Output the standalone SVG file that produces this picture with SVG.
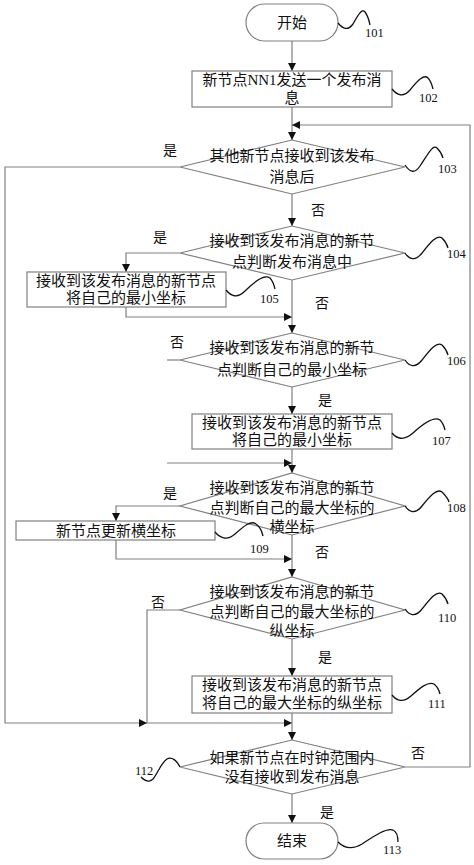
<svg xmlns="http://www.w3.org/2000/svg" width="474" height="865" viewBox="0 0 474 865">
<defs>
<marker id="arr" markerUnits="userSpaceOnUse" markerWidth="9" markerHeight="9" refX="8" refY="4" orient="auto">
<path d="M0,0 L8,4 L0,8 z" fill="#111"/>
</marker>
</defs>
<style>
.shape{fill:#fff;stroke:#808080;stroke-width:1.2}
.conn{fill:none;stroke:#808080;stroke-width:1.2}
.sq{fill:none;stroke:#111;stroke-width:1.3}
.t{font-family:"Liberation Serif","Noto Sans CJK SC",serif;font-size:15px;fill:#111;text-anchor:middle}
.lbl{font-family:"Liberation Serif","Noto Sans CJK SC",serif;font-size:14px;fill:#111;text-anchor:middle}
.num{font-family:"Liberation Serif",serif;font-size:12.5px;fill:#111}
</style>
<rect width="474" height="865" fill="#fff"/>
<g id="connectors">
<path class="conn" d="M292,41 V71" marker-end="url(#arr)"/>
<path class="conn" d="M292,107 V140" marker-end="url(#arr)"/>
<path class="conn" d="M405,767 H470 V125 H292" marker-end="url(#arr)"/>
<path class="conn" d="M180,167 H5 V723 H147" marker-end="url(#arr)"/>
<path class="conn" d="M292,194 V226" marker-end="url(#arr)"/>
<path class="conn" d="M180,253 H126 V272" marker-end="url(#arr)"/>
<path class="conn" d="M126,307 V317 H292" marker-end="url(#arr)"/>
<path class="conn" d="M292,280 V333" marker-end="url(#arr)"/>
<path class="conn" d="M180,360 H167"/>
<path class="conn" d="M292,387 V414" marker-end="url(#arr)"/>
<path class="conn" d="M167,463 H292" marker-end="url(#arr)"/>
<path class="conn" d="M292,449 V473" marker-end="url(#arr)"/>
<path class="conn" d="M180,506 H116 V521" marker-end="url(#arr)"/>
<path class="conn" d="M116,540 V559 H292" marker-end="url(#arr)"/>
<path class="conn" d="M292,535 V577" marker-end="url(#arr)"/>
<path class="conn" d="M180,610 H147 V723 H292" marker-end="url(#arr)"/>
<path class="conn" d="M292,639 V676" marker-end="url(#arr)"/>
<path class="conn" d="M292,713 V740" marker-end="url(#arr)"/>
<path class="conn" d="M292,794 V823" marker-end="url(#arr)"/>
<text class="lbl" x="170" y="155">是</text>
<text class="lbl" x="318" y="215">否</text>
<text class="lbl" x="160" y="242">是</text>
<text class="lbl" x="322" y="308">否</text>
<text class="lbl" x="177" y="347">否</text>
<text class="lbl" x="325" y="405">是</text>
<text class="lbl" x="170" y="498">是</text>
<text class="lbl" x="322" y="557">否</text>
<text class="lbl" x="158" y="607">否</text>
<text class="lbl" x="325" y="662">是</text>
<text class="lbl" x="418" y="758">否</text>
<text class="lbl" x="327" y="817">是</text>
</g>
<g id="n101">
<rect class="shape" x="246" y="4" width="92" height="37" rx="18.5"/>
<text class="t" x="292" y="28">开始</text>
<path class="sq" d="M338,23 C343,29 348,31 353,24 C358,15 362,8 365,12 C368,16 369,20 370,25"/>
<text class="num" x="365" y="37">101</text>
</g>
<g id="n102">
<rect class="shape" x="192" y="71" width="200" height="36"/>
<text class="t" x="292" y="85">新节点NN1发送一个发布消</text>
<text class="t" x="292" y="103">息</text>
<path class="sq" d="M392,89 C397,95 403,98 410,90 C418,80 424,74 428,78 C431,81 432,85 433,89"/>
<text class="num" x="419" y="102">102</text>
</g>
<g id="n103">
<polygon class="shape" points="292,140 405,167 292,194 180,167"/>
<text class="t" x="292" y="161">其他新节点接收到该发布</text>
<text class="t" x="292" y="182">消息后</text>
<path class="sq" d="M405,165 C409,171 414,175 420,166 C428,154 433,144 437,148 C440,151 442,154 443,158"/>
<text class="num" x="438" y="173">103</text>
</g>
<g id="n104">
<polygon class="shape" points="292,226 405,253 292,280 180,253"/>
<text class="t" x="292" y="246">接收到该发布消息的新节</text>
<text class="t" x="292" y="267">点判断发布消息中</text>
<path class="sq" d="M405,253 C409,259 415,262 422,253 C430,243 437,234 442,238 C445,241 447,244 448,248"/>
<text class="num" x="447" y="258">104</text>
</g>
<g id="n105">
<rect class="shape" x="27" y="272" width="199" height="35"/>
<text class="t" x="126" y="286">接收到该发布消息的新节点</text>
<text class="t" x="126" y="303">将自己的最小坐标</text>
<path class="sq" d="M226,290 C231,296 237,299 245,291 C255,281 264,274 270,278 C273,281 274,285 275,289"/>
<text class="num" x="260" y="303">105</text>
</g>
<g id="n106">
<polygon class="shape" points="292,333 405,360 292,387 180,360"/>
<text class="t" x="292" y="353">接收到该发布消息的新节</text>
<text class="t" x="292" y="375">点判断自己的最小坐标</text>
<path class="sq" d="M405,360 C409,366 415,369 422,360 C430,350 437,341 442,345 C445,348 447,351 448,355"/>
<text class="num" x="447" y="365">106</text>
</g>
<g id="n107">
<rect class="shape" x="192" y="414" width="200" height="35"/>
<text class="t" x="292" y="428">接收到该发布消息的新节点</text>
<text class="t" x="292" y="445">将自己的最小坐标</text>
<path class="sq" d="M392,433 C397,439 404,441 413,433 C424,423 434,416 440,420 C443,423 444,426 445,430"/>
<text class="num" x="432" y="445">107</text>
</g>
<g id="n108">
<polygon class="shape" points="292,473 405,506 292,535 180,506"/>
<text class="t" x="292" y="493">接收到该发布消息的新节</text>
<text class="t" x="292" y="513">点判断自己的最大坐标的</text>
<text class="t" x="292" y="532">横坐标</text>
<path class="sq" d="M405,506 C409,512 415,515 422,506 C430,496 437,488 442,492 C445,495 448,498 449,502"/>
<text class="num" x="447" y="512">108</text>
</g>
<g id="n109">
<rect class="shape" x="16" y="521" width="199" height="19"/>
<text class="t" x="116" y="536">新节点更新横坐标</text>
<path class="sq" d="M215,532 C220,538 227,541 235,534 C244,526 251,520 256,524 C260,527 262,531 263,536"/>
<text class="num" x="250" y="553">109</text>
</g>
<g id="n110">
<polygon class="shape" points="292,577 405,610 292,639 180,610"/>
<text class="t" x="292" y="597">接收到该发布消息的新节</text>
<text class="t" x="292" y="617">点判断自己的最大坐标的</text>
<text class="t" x="292" y="636">纵坐标</text>
<path class="sq" d="M405,609 C409,615 415,618 422,609 C430,599 437,590 442,594 C445,597 447,600 448,604"/>
<text class="num" x="438" y="622">110</text>
</g>
<g id="n111">
<rect class="shape" x="192" y="676" width="200" height="37"/>
<text class="t" x="292" y="690">接收到该发布消息的新节点</text>
<text class="t" x="292" y="708">将自己的最大坐标的纵坐标</text>
<path class="sq" d="M392,695 C397,701 403,703 411,696 C420,688 428,681 434,684 C438,687 439,690 440,694"/>
<text class="num" x="428" y="708">111</text>
</g>
<g id="n112">
<polygon class="shape" points="292,740 405,767 292,794 180,767"/>
<text class="t" x="292" y="763">如果新节点在时钟范围内</text>
<text class="t" x="292" y="782">没有接收到发布消息</text>
<path class="sq" d="M180,767 C177,761 172,756 167,759 C161,763 158,773 153,779 C149,783 145,781 141,777"/>
<text class="num" x="135" y="775">112</text>
</g>
<g id="n113">
<rect class="shape" x="246" y="823" width="92" height="36" rx="18"/>
<text class="t" x="292" y="846">结束</text>
<path class="sq" d="M338,842 C344,848 352,850 362,844 C374,836 386,828 393,830 C397,832 398,837 398,842"/>
<text class="num" x="383" y="854">113</text>
</g>
</svg>
